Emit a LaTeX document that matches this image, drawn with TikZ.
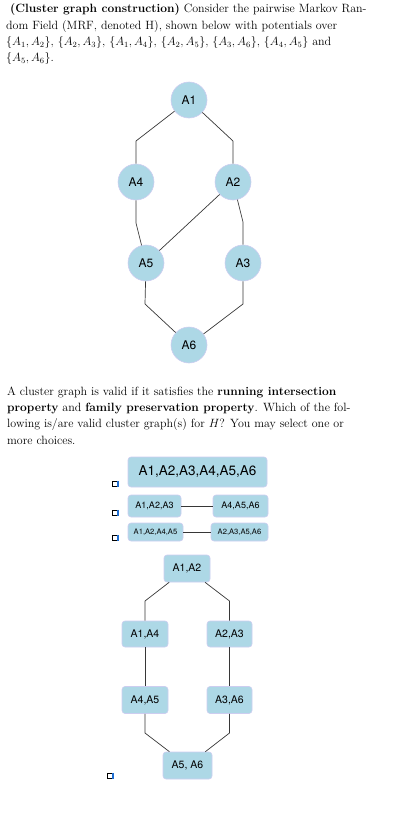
\documentclass[tikz,border=0pt]{standalone}
\usepackage{fontspec}
\newfontfamily\hv{TeX Gyre Heros}
\definecolor{nodeblue}{RGB}{173,216,230}
\definecolor{lav}{RGB}{205,205,240}
\definecolor{edgegray}{RGB}{55,55,55}
\definecolor{cbblue}{RGB}{30,110,210}
\tikzset{
  para/.style={inner sep=0pt, align=left, anchor=north west, font=\fontsize{12}{16.3}\selectfont},
  circ/.style={circle, fill=nodeblue, draw=lav, line width=0.6pt, minimum size=36pt, inner sep=0pt, font=\hv\fontsize{12}{12}\selectfont},
  box/.style={rectangle, rounded corners=3pt, fill=nodeblue, draw=lav, line width=0.6pt, inner sep=0pt},
  edge/.style={draw=edgegray, line width=0.7pt},
  cbox/.style={rectangle, draw=black, line width=0.8pt, minimum size=5.5pt, inner sep=0pt},
  cbedge/.style={draw=cbblue, line width=1.4pt}
}
\begin{document}
\begin{tikzpicture}[x=1pt,y=-1pt]
\useasboundingbox (0,0) rectangle (405,835);
% paragraph 1
\node[para] (p1) at (6,3.5) {\hspace*{4pt}\textbf{(Cluster graph construction)} Consider the pairwise Markov Ran-\\dom Field (MRF, denoted H), shown below with potentials over\\$\{A_1,A_2\}$, $\{A_2,A_3\}$, $\{A_1,A_4\}$, $\{A_2,A_5\}$, $\{A_3,A_6\}$, $\{A_4,A_5\}$ and\\$\{A_5,A_6\}$.};
% MRF graph
\node[circ] (a1) at (189,100) {A1};
\node[circ] (a4) at (136,182) {A4};
\node[circ] (a2) at (233,182) {A2};
\node[circ] (a5) at (146,263) {A5};
\node[circ] (a3) at (243,263) {A3};
\node[circ] (a6) at (189,345) {A6};
\draw[edge] (a1) -- (136,141) -- (a4);
\draw[edge] (a1) -- (233,141) -- (a2);
\draw[edge] (a4) -- (136,223) -- (a5);
\draw[edge] (a2) -- (a5);
\draw[edge] (a2) -- (243,222) -- (a3);
\draw[edge] (a5) -- (145,304) -- (a6);
\draw[edge] (a3) -- (243,304) -- (a6);
% paragraph 2
\node[para] (p2) at (7,386.5) {A cluster graph is valid if it satisfies the \textbf{running intersection}\\\textbf{property} and \textbf{family preservation property}. Which of the fol-\\lowing is/are valid cluster graph(s) for $H$? You may select one or\\more choices.};
% option 1
\node[box, minimum width=139pt, minimum height=30pt, font=\hv\fontsize{13.5}{13.5}\selectfont] (big) at (197.5,472) {A1,A2,A3,A4,A5,A6};
% option 2
\node[box, minimum width=53pt, minimum height=22pt, font=\hv\fontsize{9}{9}\selectfont] (b2a) at (154.5,506) {A1,A2,A3};
\node[box, minimum width=55pt, minimum height=22pt, font=\hv\fontsize{9}{9}\selectfont] (b2b) at (240.5,506) {A4,A5,A6};
\draw[edge] (b2a) -- (b2b);
% option 3
\node[box, minimum width=55pt, minimum height=18pt, font=\hv\fontsize{7.6}{7.6}\selectfont] (b3a) at (155.5,532) {A1,A2,A4,A5};
\node[box, minimum width=57pt, minimum height=18pt, font=\hv\fontsize{7.6}{7.6}\selectfont] (b3b) at (239.5,532) {A2,A3,A5,A6};
\draw[edge] (b3a) -- (b3b);
% option 4
\node[box, minimum width=46pt, minimum height=27pt, font=\hv\fontsize{10.5}{10.5}\selectfont] (c12) at (187,568.5) {A1,A2};
\node[box, minimum width=46pt, minimum height=26pt, font=\hv\fontsize{10.5}{10.5}\selectfont] (c14) at (145,634) {A1,A4};
\node[box, minimum width=45pt, minimum height=26pt, font=\hv\fontsize{10.5}{10.5}\selectfont] (c23) at (229.5,634) {A2,A3};
\node[box, minimum width=46pt, minimum height=27pt, font=\hv\fontsize{10.5}{10.5}\selectfont] (c45) at (145,700) {A4,A5};
\node[box, minimum width=45pt, minimum height=27pt, font=\hv\fontsize{10.5}{10.5}\selectfont] (c36) at (229.5,700) {A3,A6};
\node[box, minimum width=49pt, minimum height=27pt, font=\hv\fontsize{10.5}{10.5}\selectfont] (c56) at (187.5,765.5) {A5, A6};
\draw[edge] (c12) -- (145,601) -- (c14);
\draw[edge] (c12) -- (229.5,601) -- (c23);
\draw[edge] (c14) -- (c45);
\draw[edge] (c23) -- (c36);
\draw[edge] (c45) -- (145,733) -- (c56);
\draw[edge] (c36) -- (229.5,733) -- (c56);
% checkboxes
\node[cbox] (cb1) at (115,484) {};
\node[cbox] (cb2) at (115,513) {};
\node[cbox] (cb3) at (115,538) {};
\node[cbox] (cb4) at (110,776) {};
\foreach \c in {cb1,cb2,cb3,cb4}{\draw[cbedge] (\c.north east) -- (\c.south east);}
\end{tikzpicture}
\end{document}
